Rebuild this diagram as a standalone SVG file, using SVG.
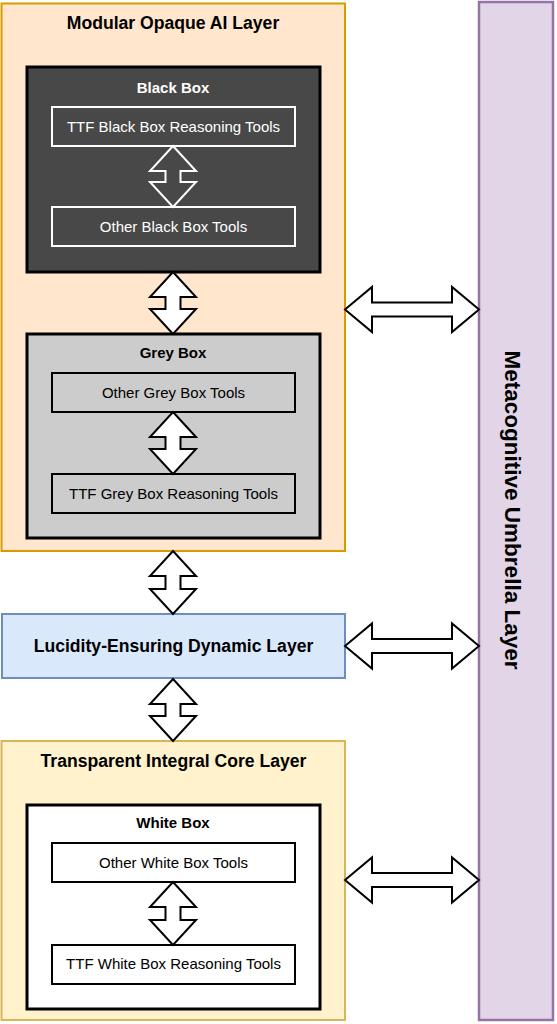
<svg xmlns="http://www.w3.org/2000/svg" width="557" height="1024" viewBox="0 0 557 1024">
<style>
  .t{font-family:"Liberation Sans",Arial,Helvetica,sans-serif;text-anchor:middle}
  .title{font-size:17.6px;font-weight:bold;fill:#000}
  .sub{font-size:15px;font-weight:bold}
  .tool{font-size:15px}
  .arr{fill:#fff;stroke:#000;stroke-width:2;stroke-linejoin:miter}
  .arrw{fill:#484848;stroke:#fff;stroke-width:2;stroke-linejoin:miter}
</style>
<rect width="557" height="1024" fill="#fff"/>

<g id="metacognitive-umbrella-layer">
  <rect x="479" y="2" width="74" height="1018" fill="#e1d5e7" stroke="#9673a6" stroke-width="2.5"/>
  <text class="t" transform="translate(505,510) rotate(90)" style="font-size:22.5px;font-weight:bold">Metacognitive Umbrella Layer</text>
</g>

<g id="modular-opaque-ai-layer">
  <rect x="1.5" y="3.5" width="343.5" height="547.5" fill="#ffe6cc" stroke="#d79b00" stroke-width="2"/>
  <text class="t title" x="173" y="29">Modular Opaque AI Layer</text>
</g>

<g id="black-box">
  <rect x="27" y="67" width="293" height="205" fill="#484848" stroke="#000" stroke-width="3"/>
  <text class="t sub" x="173" y="93" fill="#fff">Black Box</text>
</g>
<g id="ttf-black-box-reasoning-tools">
  <rect x="52" y="107" width="243" height="39" fill="#484848" stroke="#fff" stroke-width="2"/>
  <text class="t tool" x="173.5" y="132" fill="#fff">TTF Black Box Reasoning Tools</text>
</g>
<g id="other-black-box-tools">
  <rect x="52" y="207" width="243" height="39" fill="#484848" stroke="#fff" stroke-width="2"/>
  <text class="t tool" x="173.5" y="232" fill="#fff">Other Black Box Tools</text>
</g>

<g id="grey-box">
  <rect x="27" y="334" width="293" height="204" fill="#cccccc" stroke="#000" stroke-width="3"/>
  <text class="t sub" x="173" y="358" fill="#000">Grey Box</text>
</g>
<g id="other-grey-box-tools">
  <rect x="52" y="373" width="243" height="39" fill="#cccccc" stroke="#000" stroke-width="2"/>
  <text class="t tool" x="173.5" y="398" fill="#000">Other Grey Box Tools</text>
</g>
<g id="ttf-grey-box-reasoning-tools">
  <rect x="52" y="474" width="243" height="39" fill="#cccccc" stroke="#000" stroke-width="2"/>
  <text class="t tool" x="173.5" y="499" fill="#000">TTF Grey Box Reasoning Tools</text>
</g>

<g id="lucidity-ensuring-dynamic-layer">
  <rect x="2" y="614" width="343" height="64" fill="#dae8fc" stroke="#6c8ebf" stroke-width="2"/>
  <text class="t title" x="173.5" y="652">Lucidity-Ensuring Dynamic Layer</text>
</g>

<g id="transparent-integral-core-layer">
  <rect x="1.5" y="741" width="343.5" height="279" fill="#fff2cc" stroke="#d6b656" stroke-width="2"/>
  <text class="t title" x="173.5" y="767">Transparent Integral Core Layer</text>
</g>

<g id="white-box">
  <rect x="27" y="805" width="293" height="204" fill="#fff" stroke="#000" stroke-width="3"/>
  <text class="t sub" x="173" y="828" fill="#000">White Box</text>
</g>
<g id="other-white-box-tools">
  <rect x="52" y="843" width="243" height="39" fill="#fff" stroke="#000" stroke-width="2"/>
  <text class="t tool" x="173.5" y="868" fill="#000">Other White Box Tools</text>
</g>
<g id="ttf-white-box-reasoning-tools">
  <rect x="52" y="945" width="243" height="39" fill="#fff" stroke="#000" stroke-width="2"/>
  <text class="t tool" x="173.5" y="969" fill="#000">TTF White Box Reasoning Tools</text>
</g>

<g id="connectors">
  <path class="arrw" d="M173,146 L196,171 L180.5,171 L180.5,182 L196,182 L173,207 L150,182 L165.5,182 L165.5,171 L150,171 Z"/>
  <path class="arr" d="M173,272 L196,297 L180.5,297 L180.5,309 L196,309 L173,334 L150,309 L165.5,309 L165.5,297 L150,297 Z"/>
  <path class="arr" d="M173,412 L196,437 L180.5,437 L180.5,449 L196,449 L173,474 L150,449 L165.5,449 L165.5,437 L150,437 Z"/>
  <path class="arr" d="M173,551 L196,576 L180.5,576 L180.5,589 L196,589 L173,614 L150,589 L165.5,589 L165.5,576 L150,576 Z"/>
  <path class="arr" d="M173,679 L196,704 L180.5,704 L180.5,716 L196,716 L173,741 L150,716 L165.5,716 L165.5,704 L150,704 Z"/>
  <path class="arr" d="M173,882 L196,907 L180.5,907 L180.5,920 L196,920 L173,945 L150,920 L165.5,920 L165.5,907 L150,907 Z"/>
  <path class="arr" d="M345,309.5 L372,287 L372,302.5 L452,302.5 L452,287 L479,309.5 L452,332 L452,316.5 L372,316.5 L372,332 Z"/>
  <path class="arr" d="M345,646 L372,623.5 L372,639 L452,639 L452,623.5 L479,646 L452,668.5 L452,653 L372,653 L372,668.5 Z"/>
  <path class="arr" d="M345,880 L372,857.5 L372,873 L452,873 L452,857.5 L479,880 L452,902.5 L452,887 L372,887 L372,902.5 Z"/>
</g>
</svg>
